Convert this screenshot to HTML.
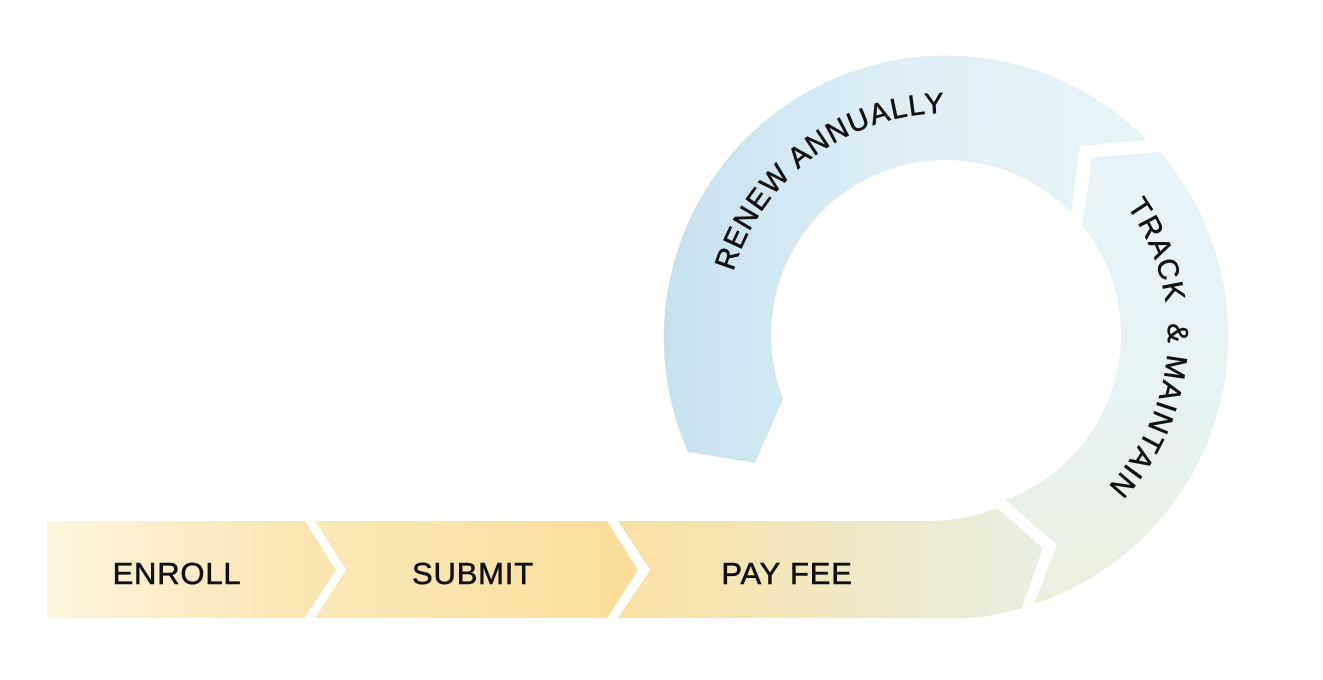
<!DOCTYPE html>
<html><head><meta charset="utf-8"><style>
html,body{margin:0;padding:0;background:#fff;}
svg{display:block;}
text{font-family:"Liberation Sans",sans-serif;fill:#111;stroke:#111;stroke-width:0.6;}
</style></head><body>
<svg width="1323" height="680" viewBox="0 0 1323 680" xmlns="http://www.w3.org/2000/svg">
<defs>
<linearGradient id="gE" x1="47" y1="0" x2="336" y2="0" gradientUnits="userSpaceOnUse"><stop offset="0" stop-color="#fdf4dd"/><stop offset="1" stop-color="#fae5ae"/></linearGradient>
<linearGradient id="gS" x1="315" y1="0" x2="638" y2="0" gradientUnits="userSpaceOnUse"><stop offset="0" stop-color="#fbe9b9"/><stop offset="1" stop-color="#f9dd98"/></linearGradient>
<linearGradient id="gP" x1="618" y1="0" x2="1043" y2="0" gradientUnits="userSpaceOnUse"><stop offset="0" stop-color="#f9e1a2"/><stop offset="0.6" stop-color="#efe9c8"/><stop offset="1" stop-color="#e9efe3"/></linearGradient>
<linearGradient id="gR" x1="664" y1="0" x2="1147" y2="0" gradientUnits="userSpaceOnUse"><stop offset="0" stop-color="#c6e1ee"/><stop offset="0.5" stop-color="#e0eff6"/><stop offset="1" stop-color="#e7f4f8"/></linearGradient>
<linearGradient id="gT" x1="0" y1="150" x2="0" y2="606" gradientUnits="userSpaceOnUse"><stop offset="0" stop-color="#e6f3f8"/><stop offset="0.55" stop-color="#e6f2f3"/><stop offset="1" stop-color="#ecefdc"/></linearGradient>
<path id="pR" d="M 726.2,365.9 A 222 222 0 0 1 1029.2,129.2" fill="none"/>
<path id="pT" d="M 1070.1,151 A 222 222 0 0 1 1043.3,534.5" fill="none"/>
</defs>
<polygon points="47,521 305,521 336,570 305,618 47,618" fill="url(#gE)"/>
<polygon points="315,521 607,521 638,570 607,618 315,618 346,570" fill="url(#gS)"/>
<path d="M 618,521 L 925,521 Q 965,521 997,508 L 1043,548 L 1022,608 Q 990,618 960,618 L 618,618 L 650,570 Z" fill="url(#gP)"/>
<path d="M 688,452 A 282 282 0 0 1 1147,140 L 1080,146 L 1071.3,212.8 A 175 175 0 0 0 783.2,399.1 L 755,463 Z" fill="url(#gR)"/>
<path d="M 1160,152 A 282 282 0 0 1 1034,604 L 1057,545 L 1004.9,499.8 A 175 175 0 0 0 1082.4,225.4 L 1092,157 Z" fill="url(#gT)"/>
<text x="177" y="584" font-size="31" text-anchor="middle" letter-spacing="0.8">ENROLL</text>
<text x="473" y="584" font-size="31" text-anchor="middle" letter-spacing="0.8">SUBMIT</text>
<text x="787" y="584" font-size="31" text-anchor="middle" letter-spacing="0.8">PAY FEE</text>
<text font-size="29" letter-spacing="1.3"><textPath href="#pR" startOffset="51%" text-anchor="middle">RENEW ANNUALLY</textPath></text>
<text font-size="29" letter-spacing="1.6" xml:space="preserve"><textPath href="#pT" startOffset="50%" text-anchor="middle">TRACK  &amp; MAINTAIN</textPath></text>
</svg>
</body></html>
